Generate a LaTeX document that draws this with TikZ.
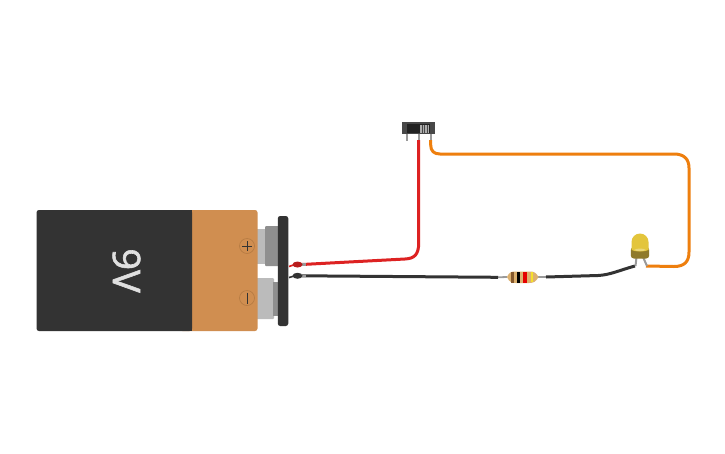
\documentclass[tikz,border=0pt]{standalone}
\usepackage{fontspec}
\setmainfont{Open Sans}
\newfontfamily\ninefont[FakeBold=1.6]{Open Sans}
\definecolor{dark}{HTML}{333333}
\definecolor{copper}{HTML}{D08E50}
\definecolor{copperedge}{HTML}{B47A42}
\definecolor{ltgrey}{HTML}{BBBBBB}
\definecolor{mdgrey}{HTML}{8F8F8F}
\definecolor{wred}{HTML}{DD2222}
\definecolor{dred}{HTML}{B81C1C}
\definecolor{wblack}{HTML}{333333}
\definecolor{worange}{HTML}{EE7F0E}
\definecolor{body}{HTML}{DDB16F}
\definecolor{ledy}{HTML}{E3C53C}
\definecolor{ledb}{HTML}{8F7A2C}
\definecolor{ledl}{HTML}{EBD77A}
\definecolor{pincol}{HTML}{9A9A9A}
\definecolor{swbody}{HTML}{484848}
\definecolor{swdark}{HTML}{222222}
\usetikzlibrary{shapes.geometric}
\tikzset{
  wire/.style={line width=3pt,line join=round},
  lead/.style={line width=1.8pt,pincol},
  plain/.style={inner sep=0pt,outer sep=0pt,minimum size=0pt},
  term/.style={circle,draw=copperedge,line width=.6pt,fill=copper,minimum size=15pt,inner sep=0pt},
  sign/.style={line width=1pt,dark},
  clip tip/.style={ellipse,minimum width=10pt,minimum height=6pt,inner sep=0pt}
}
\begin{document}
\begin{tikzpicture}[x=1pt,y=-1pt]
\useasboundingbox (0,0) rectangle (725,453);
\fill[white] (0,0) rectangle (725,453);
% battery studs
\fill[ltgrey] (256,229) rectangle (266,264);
\fill[mdgrey,rounded corners=1pt] (265,226) rectangle (279,266);
\fill[ltgrey,rounded corners=1pt] (256,278) rectangle (274,319);
\fill[mdgrey] (273,282) rectangle (279,316);
% battery body
\fill[copper,rounded corners=2.5pt] (180,210) rectangle (257.5,331);
\fill[dark,rounded corners=2.5pt] (36.5,210) rectangle (192,331);
\fill[dark] (185,210) rectangle (192,331);
\node[plain,rotate=-90,text=white!88!black,font=\ninefont\fontsize{38}{38}\selectfont] (nine) at (126.5,270.5) {9V};
\node[term] (plus) at (247,246) {};
\node[term] (minus) at (247,298) {};
\draw[sign] (242,246) -- (252,246) (247,241) -- (247,251);
\draw[sign] (247,292.5) -- (247,303.5);
% snap cap
\node[plain,fill=dark,rounded corners=2.5pt,minimum width=10.5pt,minimum height=110pt] (cap) at (283,271) {};
% connector coordinates
\coordinate (redA) at (302,264.5);
\coordinate (blkA) at (302,275.8);
\coordinate (ledK) at (635,266);
\coordinate (ledA) at (646,266);
% switch
\fill[pincol] (405.7,134) rectangle (407.8,141);
\fill[pincol] (417.7,134) rectangle (419.8,141);
\fill[pincol] (429.7,134) rectangle (431.8,141);
\node[plain,fill=swbody,minimum width=33pt,minimum height=12pt] (sw) at (418.5,128) {};
\fill[swdark] (407,124) rectangle (429.5,133);
\fill[pincol!80!white] (420,124.5) rectangle (429,132.5);
\foreach \x in {421.5,424,426.5} \fill[swbody] (\x,124.5) rectangle (\x+.9,132.5);
\coordinate (swB) at (418.7,140);
\coordinate (swC) at (430.7,140);
% resistor
\coordinate (resL) at (507,277);
\coordinate (resR) at (538,277);
\draw[lead] (498,277.3) -- (resL) (resR) -- (546,277);
% wires
\draw[wire,wred] (swB) -- (418.7,243) .. controls (418.7,255) and (414,258.5) .. (405,259) -- (redA);
\draw[wire,wblack] (blkA) -- (498,277.3);
\draw[wire,wblack] (546,277) -- (598,275.5) .. controls (610,275) and (620,270) .. (ledK);
\draw[wire,worange] (swC) -- (430.7,145) .. controls (430.7,151) and (434,154) .. (440,154) -- (674,154) .. controls (684,154) and (689,159) .. (689,168) -- (689,252) .. controls (689,262) and (684,266.5) .. (674,266.5) -- (ledA);
% alligator tips
\draw[wred,line width=1.6pt] (289,266.5) -- (295,264.5);
\draw[wblack,line width=1.6pt] (289,277.5) -- (295,275.8);
\draw[pincol,line width=2.4pt] (300,264.5) -- (306,264.5) (300,275.8) -- (306,275.8);
\node[clip tip,fill=dred] (redclip) at (297.5,264.5) {};
\node[clip tip,fill=wblack] (blkclip) at (297.5,275.8) {};
% resistor body
\fill[body] (507,277) .. controls (509,272) and (512,271.3) .. (516,271.5) -- (529,271.5)
  .. controls (534,271.3) and (536,272.5) .. (538.5,277) .. controls (536,281.5) and (534,283) .. (529,283)
  -- (516,283) .. controls (512,283) and (509,282) .. (507,277) -- cycle;
\fill[brown!70!black] (511,271.6) rectangle (514,282.8);
\fill[black] (516.5,271.5) rectangle (519.5,283);
\fill[red!90!black] (523,271.5) rectangle (526.5,283);
\fill[yellow!70!body] (531,272) rectangle (533,282);
% led
\draw[pincol,line width=2pt] (636.5,257) -- (635.5,266);
\draw[pincol,line width=2pt] (643,257) -- (647,266);
\fill[ledb,rounded corners=3pt] (630.8,247) rectangle (649.2,258.5);
\fill[ledy] (631.5,250) -- (631.5,242) arc[start angle=180,end angle=360,x radius=8.5pt,y radius=-8.5pt] -- (648.5,250) .. controls (645,252) and (635,252) .. (631.5,250) -- cycle;
\fill[ledl] (634,250) .. controls (637,248) and (643,248) .. (646,250) .. controls (643,251.5) and (637,251.5) .. (634,250) -- cycle;
\end{tikzpicture}
\end{document}
